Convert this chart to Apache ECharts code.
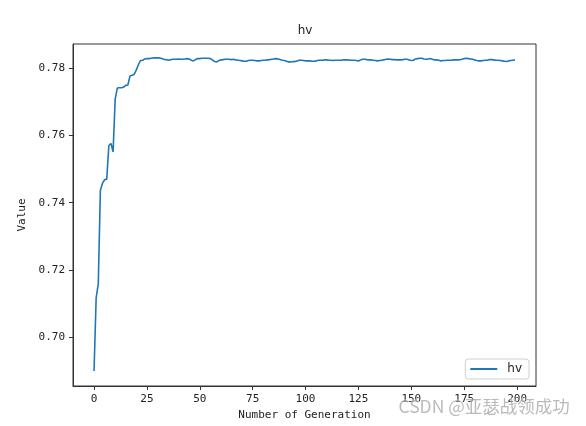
<!DOCTYPE html>
<html><head><meta charset="utf-8">
<script src="https://cdn.jsdelivr.net/npm/echarts@6/dist/echarts.min.js"></script>
<style>html,body{margin:0;padding:0;background:#fff}#c{width:586px;height:426px}</style>
</head><body><div id="c"></div>
<script>
const titleText = 'hv';
const seriesName = 'hv';
const xAxisName = 'Number of Generation';
const yAxisName = 'Value';
const xTicks = [0, 25, 50, 75, 100, 125, 150, 175, 200];
const yTicks = [0.70, 0.72, 0.74, 0.76, 0.78];
const hvValues = [
  0.6899, 0.7117, 0.7158, 0.7437, 0.7458, 0.7468, 0.7470, 0.7570, 0.7576, 0.7551,
  0.7708, 0.7741, 0.7742, 0.7742, 0.7744, 0.7749, 0.7750, 0.7777, 0.7779, 0.7782,
  0.7795, 0.7811, 0.7823, 0.78237, 0.78276, 0.78286, 0.78286, 0.78296, 0.78306, 0.78306,
  0.78306, 0.78306, 0.78286, 0.78266, 0.78256, 0.78237, 0.78247, 0.78266, 0.78266, 0.78266,
  0.78276, 0.78266, 0.78266, 0.78276, 0.78286, 0.78276, 0.78237, 0.78217, 0.78256, 0.78286,
  0.78286, 0.78296, 0.78296, 0.78296, 0.78296, 0.78286, 0.78247, 0.78197, 0.78187, 0.78227,
  0.78247, 0.78256, 0.78266, 0.78266, 0.78266, 0.78256, 0.78266, 0.78247, 0.78237, 0.78227,
  0.78217, 0.78207, 0.78207, 0.78227, 0.78237, 0.78237, 0.78227, 0.78217, 0.78217, 0.78227,
  0.78237, 0.78237, 0.78247, 0.78256, 0.78266, 0.78276, 0.78286, 0.78276, 0.78256, 0.78237,
  0.78227, 0.78207, 0.78187, 0.78187, 0.78197, 0.78197, 0.78217, 0.78237, 0.78237, 0.78227,
  0.78217, 0.78217, 0.78217, 0.78207, 0.78207, 0.78217, 0.78237, 0.78237, 0.78237, 0.78247,
  0.78247, 0.78237, 0.78237, 0.78227, 0.78237, 0.78237, 0.78237, 0.78237, 0.78247, 0.78247,
  0.78247, 0.78237, 0.78237, 0.78237, 0.78227, 0.78217, 0.78247, 0.78266, 0.78266, 0.78256,
  0.78247, 0.78247, 0.78237, 0.78227, 0.78217, 0.78227, 0.78237, 0.78247, 0.78266, 0.78276,
  0.78266, 0.78256, 0.78256, 0.78247, 0.78247, 0.78247, 0.78256, 0.78266, 0.78266, 0.78247,
  0.78227, 0.78237, 0.78276, 0.78286, 0.78296, 0.78296, 0.78276, 0.78266, 0.78276, 0.78286,
  0.78266, 0.78247, 0.78247, 0.78237, 0.78217, 0.78227, 0.78227, 0.78237, 0.78237, 0.78237,
  0.78247, 0.78247, 0.78247, 0.78256, 0.78266, 0.78286, 0.78296, 0.78286, 0.78276, 0.78266,
  0.78247, 0.78227, 0.78217, 0.78217, 0.78227, 0.78237, 0.78237, 0.78256, 0.78256, 0.78247,
  0.78237, 0.78237, 0.78227, 0.78217, 0.78207, 0.78197, 0.78217, 0.78227, 0.78237, 0.78247
];
const generations = hvValues.map((_, i) => i);
const watermark = 'CSDN @亚瑟战领成功';

const chart = echarts.init(document.getElementById('c'), null, {renderer: 'canvas'});
const mono = 'DejaVu Sans Mono';
chart.setOption({
  animation: false,
  backgroundColor: '#fff',
  title: {
    text: titleText, left: 305, top: 25, textAlign: 'center', padding: 0,
    textStyle: {fontFamily: 'DejaVu Sans', fontSize: 12, fontWeight: 'normal', color: '#222'}
  },
  grid: {left: 73, right: 50, top: 44, bottom: 39, show: true, borderColor: '#333', borderWidth: 1, containLabel: false},
  legend: {
    data: [seriesName], right: 57, bottom: 47, orient: 'vertical',
    backgroundColor: '#fff', borderColor: '#d0d0d0', borderWidth: 1, borderRadius: 3,
    padding: [4, 7, 4, 5], icon: 'rect', itemWidth: 27, itemHeight: 2,
    itemStyle: {color: '#1f77b4'},
    textStyle: {fontFamily: 'DejaVu Sans', fontSize: 12, color: '#222', padding: [0, 0, 0, 5]}
  },
  xAxis: {
    type: 'value', min: -9.95, max: 208.95,
    name: xAxisName, nameLocation: 'middle', nameGap: 24,
    nameTextStyle: {fontFamily: mono, fontSize: 11, color: '#222'},
    axisLine: {show: true, onZero: false, lineStyle: {color: '#333', width: 1}},
    axisTick: {show: true, length: 4, inside: false, customValues: xTicks, lineStyle: {color: '#333'}},
    axisLabel: {customValues: xTicks, margin: 8, fontFamily: mono, fontSize: 11, color: '#222'},
    splitLine: {show: false}
  },
  yAxis: {
    type: 'value', min: 0.68545, max: 0.7872,
    name: yAxisName, nameLocation: 'middle', nameGap: 41, nameRotate: 90,
    nameTextStyle: {fontFamily: mono, fontSize: 11, color: '#222'},
    axisLine: {show: true, onZero: false, lineStyle: {color: '#333', width: 1}},
    axisTick: {show: true, length: 4, inside: false, customValues: yTicks, lineStyle: {color: '#333'}},
    axisLabel: {customValues: yTicks, margin: 8, fontFamily: mono, fontSize: 11, color: '#222',
      formatter: v => Number(v).toFixed(2)},
    splitLine: {show: false}
  },
  series: [{
    name: seriesName, type: 'line', showSymbol: false, symbol: 'none',
    lineStyle: {color: '#1f77b4', width: 1.6}, itemStyle: {color: '#1f77b4'},
    data: generations.map((g, i) => [g, hvValues[i]])
  }],
  graphic: [{
    type: 'text', left: 398, top: 397, z: 100,
    style: {text: watermark, font: '17.5px "Noto Sans CJK SC"', fill: 'rgba(130,130,130,0.55)',
      stroke: 'rgba(255,255,255,0.6)', lineWidth: 1}
  }]
});
</script></body></html>
